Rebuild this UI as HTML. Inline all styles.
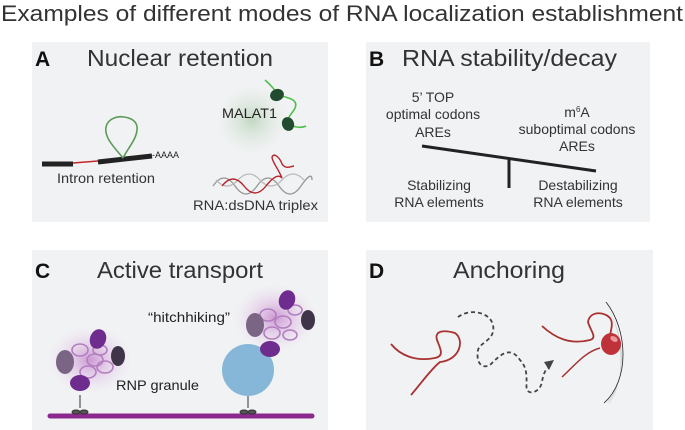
<!DOCTYPE html>
<html><head><meta charset="utf-8"><style>
html,body{margin:0;padding:0;background:#fff;}
svg{display:block;font-family:"Liberation Sans",Arial,sans-serif;}
</style></head><body>
<svg width="685" height="430" viewBox="0 0 685 430" xmlns="http://www.w3.org/2000/svg">
<defs>
<radialGradient id="gg"><stop offset="0" stop-color="#bcd5bc" stop-opacity="0.9"/><stop offset="1" stop-color="#dfe9df" stop-opacity="0"/></radialGradient>
<radialGradient id="pg"><stop offset="0" stop-color="#c07ac8" stop-opacity="0.75"/><stop offset="1" stop-color="#e8d0ec" stop-opacity="0"/></radialGradient>
<linearGradient id="mem" x1="0" x2="1"><stop offset="0" stop-color="#f1f2f4"/><stop offset="1" stop-color="#c8c8c8"/></linearGradient>
</defs>
<text x="1" y="21" font-size="22" fill="#333" textLength="682" lengthAdjust="spacingAndGlyphs">Examples of different modes of RNA localization establishment</text>

<!-- Panel A -->
<rect x="32" y="42" width="296" height="180" fill="#f1f2f4"/>
<text x="35" y="66" font-size="21" font-weight="bold" fill="#111">A</text>
<text x="87" y="66" font-size="23" fill="#333" textLength="186" lengthAdjust="spacingAndGlyphs">Nuclear retention</text>
<line x1="42" y1="164" x2="73" y2="164" stroke="#222" stroke-width="5"/>
<line x1="73" y1="163" x2="98" y2="161" stroke="#c0282d" stroke-width="1.5"/>
<line x1="98" y1="162" x2="152" y2="156" stroke="#222" stroke-width="5"/>
<text x="152" y="158" font-size="9" fill="#222">-AAAA</text>
<path d="M123,158 C115,148 104,138 106,127 C108,118 118,116 124,117 C132,118 138,122 137,130 C136,140 128,148 123,158" fill="none" stroke="#5e9b5a" stroke-width="1.6"/>
<text x="57" y="183" font-size="14" fill="#333" textLength="98" lengthAdjust="spacingAndGlyphs">Intron retention</text>
<circle cx="252" cy="120" r="36" fill="url(#gg)"/>
<text x="222" y="118" font-size="14" fill="#222" textLength="55" lengthAdjust="spacingAndGlyphs">MALAT1</text>
<path d="M265,80 C272,86 275,90 278,95 C290,98 300,100 294,110 C288,118 286,120 290,124 C295,128 302,128 306,126" fill="none" stroke="#4fbf4a" stroke-width="1.6"/>
<ellipse cx="277" cy="95" rx="7" ry="6" fill="#234b2f" transform="rotate(-20 277 95)"/>
<ellipse cx="288" cy="124" rx="6" ry="7" fill="#234b2f" transform="rotate(-20 288 124)"/>
<path d="M213,186 Q224,170 235,186 T257,186 T279,186 T301,186 T312,180" fill="none" stroke="#999" stroke-width="1.3"/>
<path d="M216,180 Q227,192 238,180 T260,180 T282,180 T304,180" fill="none" stroke="#bbb" stroke-width="1.3"/>
<path d="M222,186 Q233,172 244,186 T266,186 T282,178 C278,168 272,162 272,157 C274,152 280,158 282,164 C286,170 292,166 294,166" fill="none" stroke="#b8232a" stroke-width="1.4"/>
<text x="193" y="210" font-size="14" fill="#333" textLength="125" lengthAdjust="spacingAndGlyphs">RNA:dsDNA triplex</text>

<!-- Panel B -->
<rect x="366" y="42" width="284" height="180" fill="#f1f2f4"/>
<text x="369" y="66" font-size="21" font-weight="bold" fill="#111">B</text>
<text x="402" y="66" font-size="23" fill="#333" textLength="215" lengthAdjust="spacingAndGlyphs">RNA stability/decay</text>
<g font-size="14" fill="#333" text-anchor="middle">
<text x="433" y="102">5’ TOP</text>
<text x="433" y="119">optimal codons</text>
<text x="433" y="137">AREs</text>
<text x="577" y="117">m<tspan font-size="8" dy="-5">6</tspan><tspan dy="5">A</tspan></text>
<text x="577" y="134">suboptimal codons</text>
<text x="577" y="151">AREs</text>
<text x="439" y="190">Stabilizing</text>
<text x="439" y="207">RNA elements</text>
<text x="578" y="190">Destabilizing</text>
<text x="578" y="207">RNA elements</text>
</g>
<line x1="422" y1="146" x2="596" y2="171" stroke="#222" stroke-width="3"/>
<line x1="509" y1="159" x2="509" y2="188" stroke="#222" stroke-width="3"/>

<!-- Panel C -->
<rect x="32" y="250" width="296" height="180" fill="#f1f2f4"/>
<text x="35" y="278" font-size="21" font-weight="bold" fill="#111">C</text>
<text x="97" y="278" font-size="23" fill="#333" textLength="166" lengthAdjust="spacingAndGlyphs">Active transport</text>
<line x1="50" y1="416" x2="312" y2="416" stroke="#8b2a8c" stroke-width="5" stroke-linecap="round"/>
<ellipse cx="90" cy="360" rx="42" ry="34" fill="url(#pg)"/>
<ellipse cx="275" cy="318" rx="42" ry="34" fill="url(#pg)"/>
<g fill="none" stroke="#b27ec0" stroke-width="1.6">
<ellipse cx="80" cy="350" rx="8" ry="6"/><ellipse cx="95" cy="360" rx="8" ry="6"/><ellipse cx="88" cy="372" rx="8" ry="6"/><ellipse cx="105" cy="367" rx="8" ry="6"/><ellipse cx="100" cy="350" rx="7" ry="5"/>
<ellipse cx="268" cy="315" rx="8" ry="6"/><ellipse cx="283" cy="322" rx="8" ry="6"/><ellipse cx="272" cy="333" rx="8" ry="6"/><ellipse cx="295" cy="310" rx="7" ry="5"/><ellipse cx="290" cy="335" rx="7" ry="5"/>
</g>
<ellipse cx="65" cy="362" rx="9" ry="12" fill="#7a6585"/>
<ellipse cx="98" cy="339" rx="8" ry="10" fill="#6e2d8e" transform="rotate(20 98 339)"/>
<ellipse cx="118" cy="356" rx="7" ry="10" fill="#3f3448"/>
<ellipse cx="80" cy="383" rx="10" ry="8" fill="#6e2d8e"/>
<text x="116" y="390" font-size="14" fill="#222" textLength="83" lengthAdjust="spacingAndGlyphs">RNP granule</text>
<text x="148" y="322" font-size="14" fill="#222" textLength="82" lengthAdjust="spacingAndGlyphs">“hitchhiking”</text>
<circle cx="248" cy="370" r="26" fill="#86b7d8"/>
<ellipse cx="255" cy="325" rx="9" ry="12" fill="#7a6585"/>
<ellipse cx="287" cy="300" rx="8" ry="10" fill="#6e2d8e" transform="rotate(20 287 300)"/>
<ellipse cx="308" cy="320" rx="7" ry="10" fill="#3f3448"/>
<ellipse cx="270" cy="349" rx="10" ry="8" fill="#6e2d8e"/>
<g stroke="#333" stroke-width="1" fill="#555">
<line x1="80" y1="395" x2="80" y2="408"/><ellipse cx="76" cy="412" rx="4" ry="2"/><ellipse cx="84" cy="412" rx="4" ry="2"/>
<line x1="248" y1="396" x2="248" y2="408"/><ellipse cx="244" cy="412" rx="4" ry="2"/><ellipse cx="252" cy="412" rx="4" ry="2"/>
</g>

<!-- Panel D -->
<rect x="366" y="250" width="287" height="180" fill="#f1f2f4"/>
<text x="369" y="278" font-size="21" font-weight="bold" fill="#111">D</text>
<text x="453" y="278" font-size="23" fill="#333" textLength="112" lengthAdjust="spacingAndGlyphs">Anchoring</text>
<path d="M391,344 C400,355 415,362 435,358 C445,356 440,348 437,340 C434,330 445,330 455,333 C465,340 460,360 440,362 C430,370 420,385 411,395" fill="none" stroke="#a8322f" stroke-width="1.8"/>
<path d="M458,317 C470,308 490,312 493,325 C496,340 480,342 478,350 C476,360 480,370 490,365 C500,355 510,345 520,360 C530,370 525,385 527,390 C530,395 540,392 542,382 C543,375 545,370 548,368" fill="none" stroke="#444" stroke-width="1.8" stroke-dasharray="4,3"/>
<polygon points="544,362 554,360 549,370" fill="#444"/>
<path d="M604,302 C625,330 630,380 604,403 L610,403 C626,380 624,330 604,302 Z" fill="url(#mem)"/>
<path d="M606,302 C628,330 630,380 604,403" fill="none" stroke="#222" stroke-width="0.8"/>
<path d="M542,326 C555,338 570,345 590,340 C598,338 590,330 588,322 C590,310 605,312 610,318 C615,325 608,335 610,342" fill="none" stroke="#a8322f" stroke-width="1.8"/>
<path d="M562,377 C575,365 585,352 600,348" fill="none" stroke="#a8322f" stroke-width="1.5"/>
<ellipse cx="611" cy="344" rx="10" ry="11" fill="#c0323a"/>
<ellipse cx="614" cy="339" rx="4" ry="2.5" fill="#e89a9f" transform="rotate(30 614 339)"/>
</svg>
</body></html>
